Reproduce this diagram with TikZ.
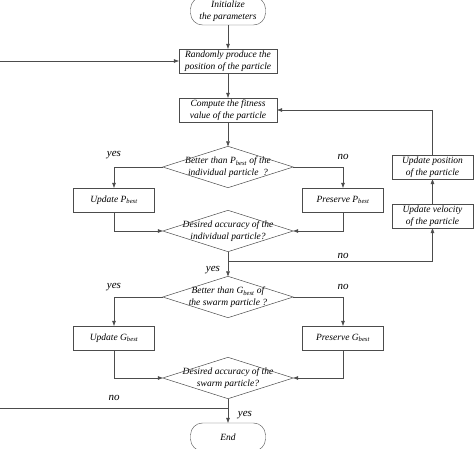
\documentclass[tikz,border=0pt]{standalone}
\usepackage{fontspec}
\setmainfont{Liberation Serif}
\usetikzlibrary{arrows.meta, positioning, calc}

\begin{document}
\begin{tikzpicture}[x=1pt, y=-1pt, >={Triangle[length=5pt, width=3.6pt]},
    every node/.style={font=\itshape\fontsize{9.5}{11.5}\selectfont, align=center, inner sep=1pt},
    term/.style={draw=black!70, rounded corners=12pt, minimum width=75pt, minimum height=28pt},
    proc/.style={draw=black!70, minimum width=81pt, minimum height=24pt},
    dec/.style={minimum width=130pt, minimum height=41pt, inner sep=0pt},
    lbl/.style={font=\itshape\fontsize{11}{13}\selectfont},
    line/.style={draw=black!70, line width=0.5pt}]
    \useasboundingbox (0,0) rectangle (474,449);
    \clip (0,0) rectangle (474,449);
    % nodes
    \node[term] (init) at (228,11) {Initialize\\the parameters};
    \node[proc, minimum width=98pt] (rand) at (228,61) {Randomly produce the\\position of the particle};
    \node[proc, minimum width=98pt] (fit) at (228,110) {Compute the fitness\\value of the particle};
    \node[dec] (d1) at (228,167) {Better than P\textsubscript{best} of the\\individual particle\ \ ?};
    \node[proc] (upP) at (114,200) {Update P\textsubscript{best}};
    \node[proc] (preP) at (343,200) {Preserve P\textsubscript{best}};
    \node[dec] (d2) at (228,231) {Desired accuracy of the\\individual particle?};
    \node[proc] (pos) at (432.5,167) {Update position\\of the particle};
    \node[proc] (vel) at (432.5,216) {Update velocity\\of the particle};
    \node[dec] (d3) at (228,297) {Better than G\textsubscript{best} of\\the swarm particle ?};
    \node[proc] (upG) at (114,338) {Update G\textsubscript{best}};
    \node[proc] (preG) at (343,338) {Preserve G\textsubscript{best}};
    \node[dec] (d4) at (228,378) {Desired accuracy of the\\swarm particle?};
    \node[term] (end) at (228,437) {End};
    \foreach \d in {d1,d2,d3,d4}
        \draw[line] (\d.north) -- (\d.east) -- (\d.south) -- (\d.west) -- cycle;
    % labels
    \node[lbl] (yes1) at (114,155) {yes};
    \node[lbl] (no1) at (343,157) {no};
    \node[lbl] (no2) at (343,256) {no};
    \node[lbl] (yes2) at (213,270) {yes};
    \node[lbl] (yes3) at (114,287) {yes};
    \node[lbl] (no3) at (343,287) {no};
    \node[lbl] (no4) at (114,398) {no};
    \node[lbl] (yes4) at (245,415) {yes};
    % connectors
    \draw[line,->] (init) -- (rand);
    \draw[line,->] (rand) -- (fit);
    \draw[line,->] (fit) -- (d1);
    \draw[line,->] (d1.west) -| (upP);
    \draw[line,->] (d1.east) -| (preP);
    \draw[line,->] (upP) |- (d2.west);
    \draw[line,->] (preP) |- (d2.east);
    \draw[line,->] (d2) -- (d3);
    \draw[line,->] (d2.south) -- ++(0,10) -| (vel);
    \draw[line,->] (vel) -- (pos);
    \draw[line,->] (pos.north) |- (fit.east);
    \draw[line,->] (d3.west) -| (upG);
    \draw[line,->] (d3.east) -| (preG);
    \draw[line,->] (upG) |- (d4.west);
    \draw[line,->] (preG) |- (d4.east);
    \draw[line,->] (d4) -- (end);
    \draw[line,->] (d4.south) -- ++(0,10) -| ([xshift=-184pt]rand.west) -- (rand.west);
\end{tikzpicture}
\end{document}
